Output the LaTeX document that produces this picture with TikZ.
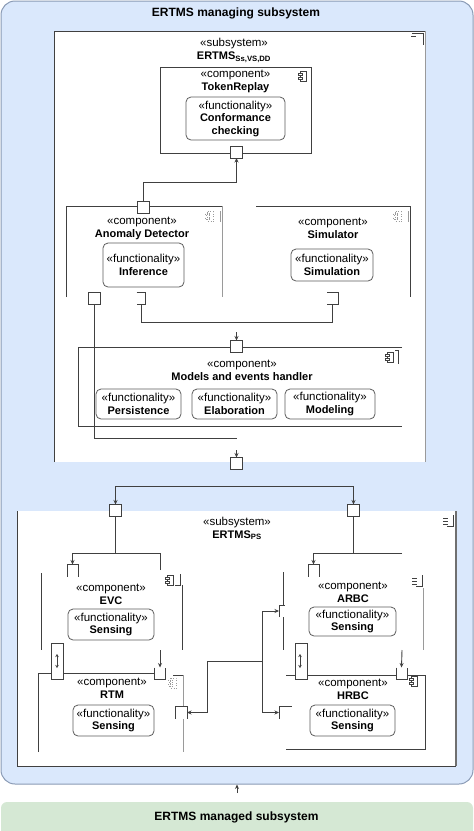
\documentclass[tikz,border=0pt]{standalone}
\usepackage{fontspec}
\setmainfont{Liberation Sans}
\usetikzlibrary{arrows.meta}
\definecolor{bluefill}{HTML}{DAE8FC}
\definecolor{blueline}{HTML}{8A9BB5}
\definecolor{greenfill}{HTML}{D5E8D4}
\definecolor{cLine}{HTML}{404040}
\definecolor{cLight}{HTML}{9A9A9A}
\newcommand\stereotxt[1]{{\fontsize{11.5}{13}\selectfont #1}}
\begin{document}
\begin{tikzpicture}[x=1pt,y=-1pt,
  edge/.style={draw=cLine, line width=0.9pt},
  faint/.style={draw=cLight, line width=0.9pt},
  conn/.style={draw=cLine, line width=0.9pt, -{Stealth[length=4.5pt,width=4pt]}},
  bconn/.style={draw=cLine, line width=0.9pt, {Stealth[length=4.5pt,width=4pt]}-{Stealth[length=4.5pt,width=4pt]}},
  dbl/.style={draw=cLine, line width=0.7pt, {Stealth[length=3pt,width=3.5pt]}-{Stealth[length=3pt,width=3.5pt]}},
  port/.style={draw=cLine, fill=white, line width=0.9pt, minimum width=12pt, minimum height=12pt, inner sep=0pt, outer sep=0pt},
  openport/.style={fill=white, minimum width=11pt, minimum height=12pt, inner sep=0pt, outer sep=0pt},
  txt/.style={align=center, inner sep=0pt, font=\fontsize{11}{13}\selectfont},
  funcbox/.style={draw=cLine!85, line width=0.8pt, rounded corners=5pt, align=center, inner sep=0pt, font=\fontsize{11}{12.5}\selectfont},
  head/.style={inner sep=0pt, font=\bfseries\fontsize{12}{14}\selectfont},
  compicon/.pic={
    \draw[cLine, line width=0.6pt, fill=white] (-2.5,-5) rectangle (3.5,5);
    \draw[cLine, line width=0.6pt, fill=white] (-4.5,-3) rectangle (-0.5,-1);
    \draw[cLine, line width=0.6pt, fill=white] (-4.5,1) rectangle (-0.5,3);
  },
  dotcomp/.pic={
    \draw[cLight, line width=0.6pt, dotted] (-2.5,-5) rectangle (3.5,5);
    \draw[cLight, line width=0.6pt, dotted] (-4.5,-3) rectangle (-0.5,-1);
    \draw[cLight, line width=0.6pt, dotted] (-4.5,1) rectangle (-0.5,3);
  },
  listicon/.pic={
    \draw[cLine, line width=0.6pt] (-6,-3) -- (-1,-3) (-6,0) -- (-1,0) (-6,3) -- (-1,3);
    \draw[cLine, line width=0.8pt] (4,-6) -- (4,5) -- (-2,5);
  }
]
\useasboundingbox (0,0) rectangle (474,831);
\clip (0,0) rectangle (474,831);

% outer subsystems
\node[draw=blueline, fill=bluefill, line width=1pt, rounded corners=14pt,
      minimum width=472pt, minimum height=783pt, inner sep=0pt] (mgr) at (237,392.5) {};
\node[fill=greenfill, rounded corners=6pt, minimum width=472pt, minimum height=40pt, inner sep=0pt] (mgd) at (237,822) {};
\node[head] (h1) at (236,13) {ERTMS managing subsystem};
\node[head] (h2) at (236.5,817) {ERTMS managed subsystem};
\coordinate (g1) at (237,793);
\draw[conn] (g1) -- (mgr.south);

% ===== subsystem SS,VS,DD =====
\fill[white] (54,31) rectangle (425,462);
\draw[edge] (54,462) -- (54,31) -- (425,31);
\draw[faint] (425,31) -- (425,462);
\draw[cLine, line width=0.9pt] (412,33) -- (423,33) -- (423,45);
\draw[cLine, line width=0.9pt] (411,36.5) -- (416,36.5);
\node[txt] (sst) at (234,50.5) {\stereotxt{«subsystem»}\\\textbf{ERTMS\textsubscript{Ss,VS,DD}}};

% TokenReplay
\draw[edge] (160,67) rectangle (311,153);
\pic at (303,76.5) {compicon};
\node[txt] (trt) at (235.5,81) {\stereotxt{«component»}\\\textbf{TokenReplay}};
\node[funcbox, minimum width=99pt, minimum height=43pt] (trf) at (235.5,118.5) {\stereotxt{«functionality»}\\\textbf{Conformance}\\\textbf{checking}};
\node[port] (trp) at (236.5,152) {};

% Anomaly Detector
\draw[edge] (66,297) -- (66,206) -- (222,206);
\draw[faint] (222,206) -- (222,297);
\pic at (210,216.5) {dotcomp};
\draw[faint] (220,211) -- (220,222);
\node[txt] (adt) at (142,228.5) {\stereotxt{«component»}\\\textbf{Anomaly Detector}};
\node[funcbox, minimum width=81pt, minimum height=44pt] (adf) at (143.5,265) {\stereotxt{«functionality»}\\\textbf{Inference}};
\node[port] (adtop) at (143,207) {};
\node[port] (adleft) at (94.5,298) {};
\node[openport, minimum width=9pt] (adsim) at (141,298) {};
\draw[edge] (adsim.north west) -- (adsim.north east) -- (adsim.south east) -- (adsim.south west);

% Simulator
\draw[edge] (256,206) -- (410,206) -- (410,297);
\pic at (398,216.5) {dotcomp};
\draw[faint] (408,211) -- (408,222);
\node[txt] (simt) at (333,228.5) {\stereotxt{«component»}\\\textbf{Simulator}};
\node[funcbox, minimum width=82pt, minimum height=32pt] (simf) at (332,265) {\stereotxt{«functionality»}\\\textbf{Simulation}};
\node[openport] (simp) at (332.5,298) {};
\draw[edge] (simp.north west) -- (simp.north east) -- (simp.south east) -- (simp.south west);

% connectors upper
\draw[conn] (adtop.north) -- (adtop.north |- 0,182) -| (trp.south);
\draw[edge] (adsim.south) -- (adsim.south |- 0,322) -| (simp.south);

% Models and events handler
\draw[edge] (402,347) -- (78,347) -- (78,426) -- (402,426);
\pic at (390,357) {compicon};
\draw[cLine, line width=0.8pt] (395,350) -- (398,350) -- (398,364);
\node[txt] (meht) at (242,370) {\stereotxt{«component»}\\\textbf{Models and events handler}};
\node[funcbox, minimum width=85pt, minimum height=30pt] (mf1) at (138.5,404) {\stereotxt{«functionality»}\\\textbf{Persistence}};
\node[funcbox, minimum width=85pt, minimum height=30pt] (mf2) at (234.5,404) {\stereotxt{«functionality»}\\\textbf{Elaboration}};
\node[funcbox, minimum width=90pt, minimum height=30pt] (mf3) at (330,404) {\stereotxt{«functionality»}\\\textbf{Modeling}};
\node[port] (mehp) at (236.5,346.5) {};
\coordinate (j1) at (236.5,332);
\draw[conn] (j1) -- (mehp.north);

\coordinate (j2) at (237,438);
\draw[edge] (adleft.south) |- (j2);
\node[port] (ssp) at (236.5,463.5) {};
\coordinate (j3) at (236.5,450);
\draw[conn] (j3) -- (ssp.north);

% ===== subsystem PS =====
\fill[white] (17,511) rectangle (456,766);
\draw[edge] (17,511) -- (17,766) -- (456,766);
\draw[draw=cLine!75, line width=1.5pt] (456,766) -- (456,511);
\pic at (449,521) {listicon};
\node[txt] (pst) at (237,528.5) {\stereotxt{«subsystem»}\\\textbf{ERTMS\textsubscript{PS}}};
\node[port] (psL) at (115.5,510.5) {};
\node[port] (psR) at (353.5,510.5) {};
\draw[bconn] (psL.north) -- ++(0,-18) -| (psR.north);

% EVC
\draw[edge] (psL.south) -- ++(0,36);
\coordinate (e1) at (160,570);
\node[openport] (evcp) at (72.5,570.5) {};
\draw[edge] (evcp.south west) -- (evcp.north west) -- (evcp.north east) -- (evcp.south east);
\draw[conn] (e1) -- (160,553) -| (evcp.north);
\draw[edge] (41,573) -- (41,650);
\draw[edge] (182,585) -- (182,650);
\pic at (170,580.5) {compicon};
\draw[cLine, line width=0.8pt] (180,574) -- (180,585) -- (175,585);
\node[txt] (evct) at (111,594.5) {\stereotxt{«component»}\\\textbf{EVC}};
\node[funcbox, minimum width=86pt, minimum height=31pt] (evcf) at (111,624.5) {\stereotxt{«functionality»}\\\textbf{Sensing}};

% RTM
\draw[edge] (38,752) -- (38,673) -- (166,673);
\draw[edge] (173,675) -- (183,675);
\draw[faint] (183,675) -- (183,752);
\pic at (173,683) {dotcomp};
\node[txt] (rtmt) at (112,688.5) {\stereotxt{«component»}\\\textbf{RTM}};
\node[funcbox, minimum width=81pt, minimum height=31pt] (rtmf) at (113.5,720.5) {\stereotxt{«functionality»}\\\textbf{Sensing}};
\node[port, minimum height=36pt] (dp1) at (57,661) {};
\draw[dbl] (57,654) -- (57,668);
\node[openport] (rtmp) at (160,673.5) {};
\draw[edge] (rtmp.north west) -- (rtmp.south west) -- (rtmp.south east) -- (rtmp.north east);
\coordinate (evcb) at (160,650);
\draw[conn] (evcb) -- (rtmp.north);
\node[openport, minimum width=12pt] (rtms) at (181,712.5) {};
\draw[edge] (rtms.south west) -- (rtms.north west) -- (rtms.north east) -- (rtms.south east);

% ARBC
\draw[edge] (psR.south) -- ++(0,36);
\coordinate (a1) at (402,553);
\node[openport] (arbct) at (313.5,570.5) {};
\draw[edge] (arbct.south west) -- (arbct.north west) -- (arbct.north east) -- (arbct.south east);
\draw[conn] (a1) -| (arbct.north);
\draw[edge] (283,572) -- (283,650);
\draw[faint] (423,588) -- (423,650);
\pic at (418,581) {listicon};
\node[txt] (arbct2) at (353,592) {\stereotxt{«component»}\\\textbf{ARBC}};
\node[funcbox, minimum width=87pt, minimum height=29pt] (arbcf) at (352.5,621.5) {\stereotxt{«functionality»}\\\textbf{Sensing}};
\node[openport, minimum width=6pt] (arbcp) at (282,611) {};
\draw[edge] (arbcp.south west) -- (arbcp.north west) -- (arbcp.north east);

% HRBC
\draw[edge] (286,675) -- (425,675) -- (425,749) -- (286,749);
\pic at (414,681) {compicon};
\node[txt] (hrbct) at (353,689) {\stereotxt{«component»}\\\textbf{HRBC}};
\node[funcbox, minimum width=85pt, minimum height=31pt] (hrbcf) at (352.5,720.5) {\stereotxt{«functionality»}\\\textbf{Sensing}};
\node[port, minimum height=36pt] (dp2) at (301,661) {};
\draw[dbl] (300,654) -- (300,668);
\node[openport] (hrbcq) at (401.5,673.5) {};
\draw[edge] (hrbcq.north west) -- (hrbcq.south west) -- (hrbcq.south east) -- (hrbcq.north east);
\coordinate (arbcb) at (402,650);
\draw[conn] (arbcb) -- (hrbcq.north);
\node[openport, minimum width=13pt] (hrbcp) at (285.5,712.5) {};
\draw[edge] (hrbcp.south west) -- (hrbcp.north west) -- (hrbcp.north east);

% RTM <-> ARBC/HRBC
\coordinate (k1) at (262,661);
\draw[conn] (k1) -- (207,661) |- (rtms.east);
\draw[conn] (k1) |- (arbcp.west);
\draw[conn] (k1) |- (hrbcp.west);
\end{tikzpicture}
\end{document}
